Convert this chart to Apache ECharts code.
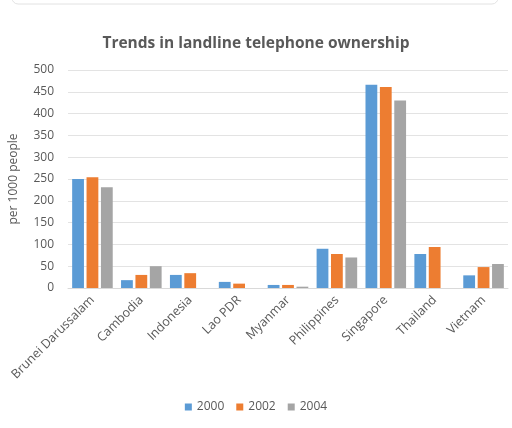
<!DOCTYPE html>
<html>
<head>
<meta charset="utf-8">
<script src="https://cdn.jsdelivr.net/npm/echarts@6/dist/echarts.min.js"></script>
<style>
  html, body { margin: 0; padding: 0; background: #fff; }
  #chart { width: 512px; height: 428px; }
</style>
</head>
<body>
<div id="chart"></div>
<script>
// data
var countries = ['Brunei Darussalam', 'Cambodia', 'Indonesia', 'Lao PDR', 'Myanmar',
                 'Philippines', 'Singapore', 'Thailand', 'Vietnam'];
var years = ['2000', '2002', '2004'];
var y2000 = [250, 18, 30, 14, 7, 90, 466, 78, 29];
var y2002 = [254, 30, 34, 10, 7, 78, 461, 94, 48];
var y2004 = [231, 50, 0, 0, 3, 70, 430, 0, 55];
var colors = ['#5B9BD5', '#ED7D31', '#A5A5A5'];

var textColor = '#595959';
var font = 'Open Sans';

var chart = echarts.init(document.getElementById('chart'));

function bar(name, data, i) {
  return {
    name: name,
    type: 'bar',
    data: data,
    barGap: '22%',
    barCategoryGap: '17%',
    itemStyle: { color: colors[i] }
  };
}

chart.setOption({
  animation: false,
  textStyle: { fontFamily: font },
  title: {
    text: 'Trends in landline telephone ownership',
    left: 'center',
    top: 31,
    textStyle: { color: textColor, fontSize: 15.5, fontWeight: 'bold', fontFamily: font }
  },
  // top edge of the frame left over from the page above
  graphic: [{
    type: 'rect',
    shape: { x: 12, y: -20, width: 486, height: 24, r: 6 },
    style: { fill: 'none', stroke: '#e2e2e2', lineWidth: 1 }
  }],
  legend: {
    data: years,
    bottom: 10,
    left: 'center',
    itemWidth: 7,
    itemHeight: 7,
    itemGap: 12,
    icon: 'rect',
    textStyle: { color: textColor, fontSize: 12, fontFamily: font }
  },
  grid: { left: 62, right: 4, top: 70, bottom: 140 },
  xAxis: {
    type: 'category',
    data: countries,
    axisLine: { lineStyle: { color: '#d9d9d9' } },
    axisTick: { show: false },
    axisLabel: { color: textColor, fontSize: 12.5, rotate: 45, interval: 0, margin: 10 }
  },
  yAxis: {
    type: 'value',
    min: 0,
    max: 500,
    interval: 50,
    name: 'per 1000 people',
    nameLocation: 'middle',
    nameGap: 48,
    nameTextStyle: { color: textColor, fontSize: 12 },
    axisLine: { show: false },
    axisTick: { show: false },
    axisLabel: { color: textColor, fontSize: 12, margin: 14 },
    splitLine: { lineStyle: { color: '#e3e3e3' } }
  },
  series: [bar('2000', y2000, 0), bar('2002', y2002, 1), bar('2004', y2004, 2)]
});
</script>
</body>
</html>
